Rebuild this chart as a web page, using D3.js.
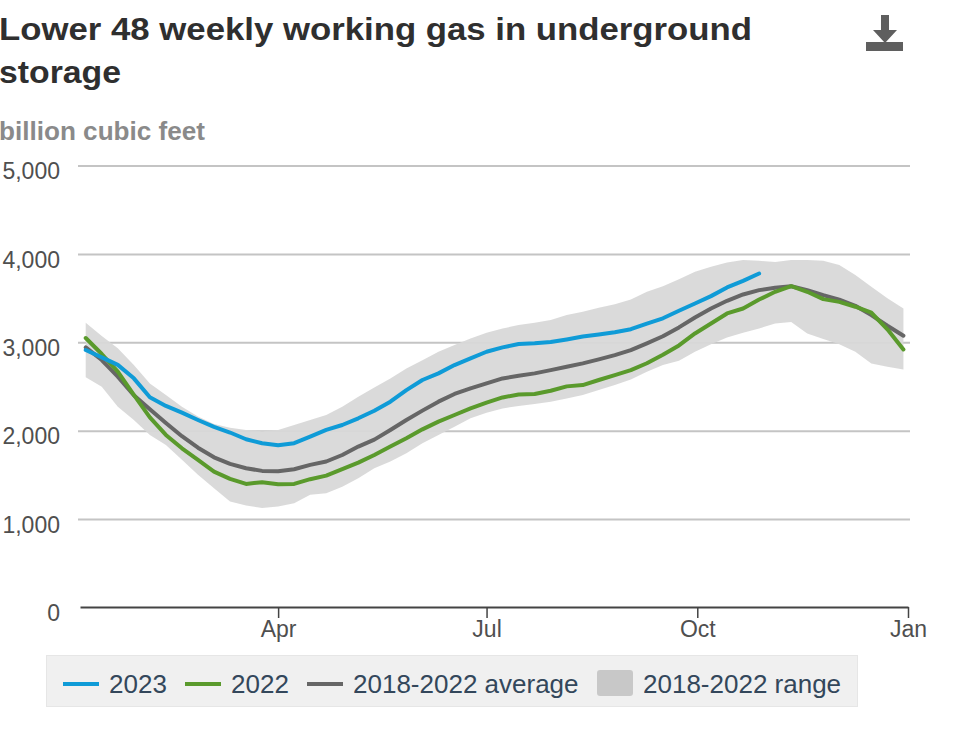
<!DOCTYPE html>
<html>
<head>
<meta charset="utf-8">
<script src="https://cdnjs.cloudflare.com/ajax/libs/d3/7.8.5/d3.min.js"></script>
<style>
    html, body { margin: 0; padding: 0; background: #fff; overflow: hidden; }
    text { font-family: "Liberation Sans", Arial, sans-serif; }
</style>
</head>
<body>
<svg id="chart" width="974" height="733"></svg>
<script>
var firstWeek = new Date(2023, 0, 7);
var series2023 = [2918, 2835, 2750, 2598, 2384, 2286, 2210, 2127, 2048, 1985, 1909, 1864, 1841, 1864, 1939, 2014, 2070, 2146, 2232, 2334, 2465, 2579, 2654, 2748, 2824, 2899, 2948, 2986, 2994, 3008, 3038, 3072, 3095, 3120, 3154, 3218, 3277, 3362, 3445, 3528, 3626, 3701, 3784];
var series2022 = [3054, 2873, 2674, 2411, 2157, 1958, 1807, 1675, 1543, 1460, 1404, 1423, 1400, 1404, 1457, 1498, 1570, 1644, 1731, 1826, 1920, 2021, 2108, 2183, 2258, 2323, 2382, 2416, 2420, 2457, 2507, 2522, 2579, 2634, 2691, 2769, 2864, 2970, 3106, 3219, 3332, 3388, 3489, 3577, 3640, 3577, 3494, 3463, 3408, 3340, 3152, 2925];
var seriesAvg = [2948, 2805, 2617, 2407, 2247, 2092, 1943, 1813, 1705, 1630, 1581, 1551, 1547, 1570, 1619, 1657, 1731, 1826, 1905, 2014, 2127, 2233, 2334, 2421, 2484, 2541, 2597, 2628, 2654, 2691, 2729, 2767, 2812, 2861, 2918, 2994, 3074, 3174, 3287, 3388, 3475, 3547, 3596, 3622, 3640, 3596, 3539, 3489, 3419, 3314, 3193, 3080];
var rangeHigh = [3227, 3077, 2937, 2749, 2541, 2410, 2277, 2165, 2082, 2040, 2014, 2000, 2014, 2070, 2127, 2183, 2277, 2390, 2495, 2597, 2710, 2804, 2899, 2975, 3050, 3113, 3163, 3200, 3227, 3257, 3314, 3351, 3396, 3437, 3489, 3577, 3640, 3720, 3803, 3859, 3909, 3938, 3927, 3913, 3938, 3938, 3927, 3879, 3766, 3634, 3503, 3389];
var rangeLow = [2609, 2503, 2277, 2127, 1958, 1845, 1676, 1506, 1355, 1204, 1159, 1132, 1147, 1186, 1280, 1298, 1373, 1468, 1581, 1657, 1751, 1864, 1958, 2051, 2146, 2210, 2258, 2285, 2307, 2334, 2371, 2409, 2465, 2522, 2586, 2673, 2748, 2797, 2899, 2985, 3060, 3113, 3163, 3219, 3234, 3106, 3042, 2985, 2899, 2767, 2729, 2697];
var yTicks = [0, 1000, 2000, 3000, 4000, 5000];
var xTicks = [new Date(2023, 3, 1), new Date(2023, 6, 1), new Date(2023, 9, 1), new Date(2024, 0, 1)];
var titleLines = ['Lower 48 weekly working gas in underground', 'storage'];
var titleWidths = [753, 122];

var svg = d3.select('#chart');

var x = d3.scaleTime()
    .domain([new Date(2023, 0, 4, 12), new Date(2024, 0, 1)])
    .range([80, 908]);
var y = d3.scaleLinear()
    .domain([0, 5000])
    .range([608, 166]);

function weekOf(i) {
    return d3.timeDay.offset(firstWeek, i * 7);
}

// title block, the reference text is stretched a bit wide
svg.selectAll('.title')
    .data(titleLines)
    .enter()
    .append('text')
    .attr('class', 'title')
    .attr('x', -1)
    .attr('y', function (d, i) { return 40 + i * 43; })
    .attr('font-size', 31)
    .attr('font-weight', 'bold')
    .attr('fill', '#2f2f2f')
    .attr('textLength', function (d, i) { return titleWidths[i]; })
    .attr('lengthAdjust', 'spacingAndGlyphs')
    .text(function (d) { return d; });

svg.append('text')
    .attr('x', -1)
    .attr('y', 140)
    .attr('font-size', 25)
    .attr('font-weight', 'bold')
    .attr('fill', '#8a8a8a')
    .attr('textLength', 206)
    .attr('lengthAdjust', 'spacingAndGlyphs')
    .text('billion cubic feet');

// download icon
var icon = svg.append('g').attr('fill', '#5f5f5f');
icon.append('rect').attr('x', 866).attr('y', 42).attr('width', 37).attr('height', 9);
icon.append('path').attr('d', 'M881 15h8v15h8l-12 13l-12 -13h8z');

// gridlines and y labels
var yAxis = svg.append('g')
    .attr('transform', 'translate(80,0)')
    .call(d3.axisLeft(y).tickValues(yTicks).tickSize(0).tickPadding(20).tickFormat(d3.format(',')));
yAxis.select('.domain').remove();
yAxis.selectAll('text')
    .attr('font-size', 23)
    .attr('font-family', '"Liberation Sans", Arial, sans-serif')
    .attr('fill', '#4f4f4f')
    .attr('dy', '0.55em');

svg.append('g')
    .selectAll('line')
    .data(yTicks.slice(1))
    .enter()
    .append('line')
    .attr('x1', 78)
    .attr('x2', 910)
    .attr('y1', function (d) { return y(d); })
    .attr('y2', function (d) { return y(d); })
    .attr('stroke', '#c4c4c4')
    .attr('stroke-width', 2);

// range band goes over the grid, semi transparent so the lines still show
var band = d3.area()
    .x(function (d, i) { return x(weekOf(i)); })
    .y0(function (d, i) { return y(rangeLow[i]); })
    .y1(function (d) { return y(d); });

svg.append('path')
    .datum(rangeHigh)
    .attr('d', band)
    .attr('fill', '#d8d8d8')
    .attr('fill-opacity', 0.95);

var line = d3.line()
    .x(function (d, i) { return x(weekOf(i)); })
    .y(function (d) { return y(d); });

var lines = [
    { values: seriesAvg, color: '#666666' },
    { values: series2022, color: '#5a9a2c' },
    { values: series2023, color: '#0f9bd7' }
];

svg.selectAll('.series')
    .data(lines)
    .enter()
    .append('path')
    .attr('class', 'series')
    .attr('d', function (d) { return line(d.values); })
    .attr('fill', 'none')
    .attr('stroke', function (d) { return d.color; })
    .attr('stroke-width', 4)
    .attr('stroke-linejoin', 'round')
    .attr('stroke-linecap', 'round');

// x axis
var xAxis = svg.append('g')
    .attr('transform', 'translate(0,607)')
    .call(d3.axisBottom(x).tickValues(xTicks).tickSize(11).tickSizeOuter(0).tickPadding(3).tickFormat(d3.timeFormat('%b')));
xAxis.select('.domain')
    .attr('stroke', '#444')
    .attr('stroke-width', 2);
xAxis.selectAll('line')
    .attr('stroke', '#444')
    .attr('stroke-width', 1.5);
xAxis.selectAll('text')
    .attr('font-size', 23)
    .attr('font-family', '"Liberation Sans", Arial, sans-serif')
    .attr('fill', '#4f4f4f');

// legend
var legend = svg.append('g');
legend.append('rect')
    .attr('x', 46.5)
    .attr('y', 655.5)
    .attr('width', 811)
    .attr('height', 51)
    .attr('fill', '#f0f0f0')
    .attr('stroke', '#e6e6e6');

var legendItems = [
    { label: '2023', color: '#0f9bd7', x: 63 },
    { label: '2022', color: '#5a9a2c', x: 185 },
    { label: '2018-2022 average', color: '#666666', x: 307 }
];

legend.selectAll('.key')
    .data(legendItems)
    .enter()
    .append('line')
    .attr('class', 'key')
    .attr('x1', function (d) { return d.x; })
    .attr('x2', function (d) { return d.x + 36; })
    .attr('y1', 684)
    .attr('y2', 684)
    .attr('stroke', function (d) { return d.color; })
    .attr('stroke-width', 4);

legend.append('rect')
    .attr('x', 597)
    .attr('y', 670)
    .attr('width', 36)
    .attr('height', 26)
    .attr('rx', 3)
    .attr('fill', '#c8c8c8');

legend.selectAll('.label')
    .data(legendItems.concat([{ label: '2018-2022 range', x: 597 }]))
    .enter()
    .append('text')
    .attr('class', 'label')
    .attr('x', function (d) { return d.x + 46; })
    .attr('y', 693)
    .attr('font-size', 26)
    .attr('fill', '#33475b')
    .text(function (d) { return d.label; });
</script>
</body>
</html>
